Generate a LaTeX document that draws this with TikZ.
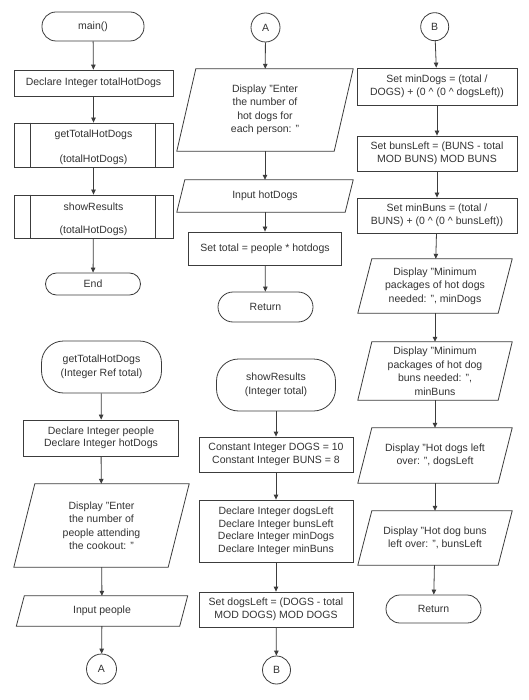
\documentclass[tikz,border=0pt]{standalone}
\usepackage{fontspec}
\setmainfont{Liberation Sans}
\usetikzlibrary{arrows.meta}
\definecolor{ink}{HTML}{333333}
\definecolor{edge}{HTML}{3C3C3C}
\newcommand\drawio[2]{\draw[shapeline] ([xshift=#2]#1.north west) -- ([xshift=#2]#1.north east) -- ([xshift=-#2]#1.south east) -- ([xshift=-#2]#1.south west) -- cycle;}
\newcommand\drawsub[1]{\draw[shapeline] ([xshift=17pt]#1.north west) -- ([xshift=17pt]#1.south west); \draw[shapeline] ([xshift=-18pt]#1.north east) -- ([xshift=-18pt]#1.south east);}
\begin{document}
\begin{tikzpicture}[x=1pt,y=-1pt,
  every node/.style={font=\fontsize{10.5}{12.5}\selectfont, text=ink, align=center, inner sep=0pt},
  shapeline/.style={draw=edge, line width=0.8pt},
  box/.style={shapeline, rectangle},
  term/.style={shapeline, rectangle, rounded corners=#1, font=\fontsize{10.5}{14}\selectfont},
  io/.style={rectangle, font=\fontsize{10.5}{13.5}\selectfont},
  conn/.style={shapeline, circle, minimum size=#1},
  arr/.style={draw=edge, line width=0.8pt, -{Triangle[length=5pt,width=4.5pt]}}
]
\fill[white] (0,0) rectangle (528,700);
\useasboundingbox (0,0) rectangle (528,700);

% ---- column 1 top: main
\node[term=14pt, minimum width=102pt, minimum height=29pt] (main) at (93,26.5) {main()};
\node[box, minimum width=159pt, minimum height=26pt] (decl1) at (93.5,83) {Declare Integer totalHotDogs};
\node[box, minimum width=159pt, minimum height=44pt] (sub1) at (93.5,145) {};
\drawsub{sub1}
\node[box, minimum width=159pt, minimum height=43pt] (sub2) at (93.5,216.5) {};
\drawsub{sub2}
\begin{scope}
  \clip (sub1.north west) rectangle ([yshift=0.4pt]sub1.south east);
  \node (sub1a) at (93.5,135) {getTotalHotDogs};
  \node (sub1b) at (93.5,159.5) {(totalHotDogs)};
\end{scope}
\begin{scope}
  \clip (sub2.north west) rectangle ([yshift=0.4pt]sub2.south east);
  \node (sub2a) at (93.5,207) {showResults};
  \node (sub2b) at (93.5,231) {(totalHotDogs)};
\end{scope}
\node[term=11pt, minimum width=95pt, minimum height=22pt] (end) at (93,284) {End};
\draw[arr] (main) -- (decl1);
\draw[arr] (decl1) -- (sub1);
\draw[arr] (sub1) -- (sub2);
\draw[arr] (sub2) -- (end);

% ---- column 1 bottom: getTotalHotDogs
\node[term=22pt, minimum width=120pt, minimum height=52pt] (gth) at (101.5,367) {getTotalHotDogs\\(Integer Ref total)};
\node[box, minimum width=155pt, minimum height=36pt] (decl2) at (101,438) {Declare Integer people\\Declare Integer hotDogs};
\node[io, minimum width=154pt, minimum height=83pt] (disp1) at (101.5,525.5) {Display "Enter\\the number of\\people attending\\the cookout: "};
\drawio{disp1}{10.5pt}
\node[io, minimum width=163pt, minimum height=30pt] (inp1) at (102,611) {Input people};
\drawio{inp1}{4pt}
\node[conn=30pt] (A1) at (101.5,669) {A};
\draw[arr] (gth) -- (decl2);
\draw[arr] (decl2) -- (disp1);
\draw[arr] (disp1) -- (inp1);
\draw[arr] (inp1) -- (A1);

% ---- column 2 top: continuation A
\node[conn=29pt] (A2) at (265.5,27.5) {A};
\node[io, minimum width=157pt, minimum height=82pt] (disp2) at (265,110) {Display "Enter\\the number of\\hot dogs for\\each person: "};
\drawio{disp2}{9.5pt}
\node[io, minimum width=168pt, minimum height=32pt] (inp2) at (265,196) {Input hotDogs};
\drawio{inp2}{4pt}
\node[box, minimum width=153pt, minimum height=33pt] (set1) at (265,248.5) {Set total = people * hotdogs};
\node[term=15pt, minimum width=95pt, minimum height=30pt] (ret1) at (265.5,307) {Return};
\draw[arr] (A2) -- (disp2);
\draw[arr] (disp2) -- (inp2);
\draw[arr] (inp2) -- (set1);
\draw[arr] (set1) -- (ret1);

% ---- column 2 bottom: showResults
\node[term=22pt, minimum width=119pt, minimum height=52pt] (sr) at (276,385) {showResults\\(Integer total)};
\node[box, minimum width=154pt, minimum height=35pt] (const) at (276,454.5) {Constant Integer DOGS = 10\\Constant Integer BUNS = 8};
\node[box, minimum width=154pt, minimum height=62pt] (decl3) at (276,531) {Declare Integer dogsLeft\\Declare Integer bunsLeft\\Declare Integer minDogs\\Declare Integer minBuns};
\node[box, minimum width=154pt, minimum height=35pt] (set2) at (276,609.5) {Set dogsLeft = (DOGS - total\\MOD DOGS) MOD DOGS};
\node[conn=28pt] (B1) at (276.5,670) {B};
\draw[arr] (sr) -- (const);
\draw[arr] (const) -- (decl3);
\draw[arr] (decl3) -- (set2);
\draw[arr] (set2) -- (B1);

% ---- column 3: continuation B
\node[conn=28pt] (B2) at (434.7,26.7) {B};
\node[box, minimum width=160pt, minimum height=37pt] (s1) at (437,86.5) {Set minDogs = (total /\\DOGS) + (0 \textasciicircum\ (0 \textasciicircum\ dogsLeft))};
\node[box, minimum width=160pt, minimum height=35pt] (s2) at (437,153.5) {Set bunsLeft = (BUNS - total\\MOD BUNS) MOD BUNS};
\node[box, minimum width=160pt, minimum height=35pt] (s3) at (437,215.5) {Set minBuns = (total /\\BUNS) + (0 \textasciicircum\ (0 \textasciicircum\ bunsLeft))};
\node[io, minimum width=140pt, minimum height=54pt] (d1) at (435,286) {Display "Minimum\\packages of hot dogs\\needed: ", minDogs};
\drawio{d1}{7pt}
\node[io, minimum width=140pt, minimum height=58pt] (d2) at (435,371) {Display "Minimum\\packages of hot dog\\buns needed: ",\\minBuns};
\drawio{d2}{7pt}
\node[io, minimum width=140pt, minimum height=55pt] (d3) at (435,455.5) {Display "Hot dogs left\\over: ", dogsLeft};
\drawio{d3}{7pt}
\node[io, minimum width=140pt, minimum height=54pt] (d4) at (435,538) {Display "Hot dog buns\\left over: ", bunsLeft};
\drawio{d4}{7pt}
\node[term=14pt, minimum width=95pt, minimum height=28pt] (ret2) at (433.5,609) {Return};
\draw[arr] (B2) -- (s1);
\draw[arr] (s1) -- (s2);
\draw[arr] (s2) -- (s3);
\draw[arr] (s3) -- (d1);
\draw[arr] (d1) -- (d2);
\draw[arr] (d2) -- (d3);
\draw[arr] (d3) -- (d4);
\draw[arr] (d4) -- (ret2);
\end{tikzpicture}
\end{document}
